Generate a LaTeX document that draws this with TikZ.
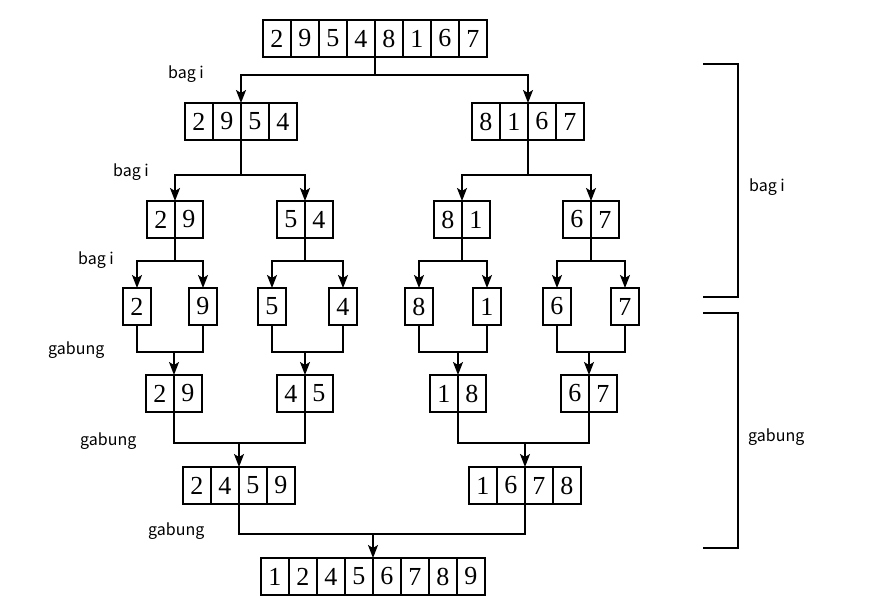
\documentclass[tikz,border=0pt]{standalone}
\usepackage{fontspec}
\usetikzlibrary{calc,arrows.meta}
\newfontfamily\digf{Liberation Serif}
\newfontfamily\labf{Noto Sans CJK SC}
\newcommand\cellrow[5]{% name, cx, ytop, n, digits
  \node[minimum width=#4*28, minimum height=37, inner sep=0, anchor=north] (#1) at (#2,#3) {};
  \foreach \d [count=\i] in {#5} {
    \draw[line width=1.6] ($(#1.north west)+(\i*28-28,0)$) rectangle ++(28,37);
    \node[font=\digf\fontsize{26}{26}\selectfont, inner sep=0] at ($(#1.north west)+(\i*28-14,18.5)$) {\d};
  }
}
\begin{document}
\begin{tikzpicture}[x=1pt,y=-1pt,
  arr/.style={line width=1.6,-{Stealth[length=13,width=10,inset=3]}},
  ln/.style={line width=1.6},
  lab/.style={font=\labf\fontsize{16}{16}\selectfont, inner sep=0, anchor=west}]
\useasboundingbox (0,0) rectangle (872,608);
\cellrow{r0}{375}{20}{8}{2,9,5,4,8,1,6,7}
\cellrow{a}{241}{103}{4}{2,9,5,4}
\cellrow{b}{528}{103}{4}{8,1,6,7}
\cellrow{aa}{175}{201}{2}{2,9}
\cellrow{ab}{305}{201}{2}{5,4}
\cellrow{ba}{462}{201}{2}{8,1}
\cellrow{bb}{591}{201}{2}{6,7}
\cellrow{s1}{137}{288}{1}{2}
\cellrow{s2}{203}{288}{1}{9}
\cellrow{s3}{272}{288}{1}{5}
\cellrow{s4}{343}{288}{1}{4}
\cellrow{s5}{419}{288}{1}{8}
\cellrow{s6}{487}{288}{1}{1}
\cellrow{s7}{557}{288}{1}{6}
\cellrow{s8}{625}{288}{1}{7}
\cellrow{m1}{174}{375}{2}{2,9}
\cellrow{m2}{305}{375}{2}{4,5}
\cellrow{m3}{458}{375}{2}{1,8}
\cellrow{m4}{589}{375}{2}{6,7}
\cellrow{n1}{239}{467}{4}{2,4,5,9}
\cellrow{n2}{525}{467}{4}{1,6,7,8}
\cellrow{f}{373}{558}{8}{1,2,4,5,6,7,8,9}
% splits
\foreach \p/\c/\d/\h in {r0/a/b/75, a/aa/ab/175, b/ba/bb/175, aa/s1/s2/261, ab/s3/s4/261, ba/s5/s6/261, bb/s7/s8/261}{
  \draw[ln] (\p.south) -- (\p.south |- 0,\h);
  \draw[arr] (\p.south |- 0,\h) -| (\c.north);
  \draw[arr] (\p.south |- 0,\h) -| (\d.north);
}
% merges
\foreach \a/\b/\c/\h in {s1/s2/m1/352, s3/s4/m2/352, s5/s6/m3/352, s7/s8/m4/352, m1/m2/n1/443, m3/m4/n2/443, n1/n2/f/534}{
  \draw[ln] (\a.south) |- (\b.south |- 0,\h) -- (\b.south);
  \draw[arr] (\c.north |- 0,\h) -- (\c.north);
}
% labels
\node[lab] (l1) at (168,74) {bag i};
\node[lab] (l2) at (113,172) {bag i};
\node[lab] (l3) at (78,260) {bag i};
\node[lab] (l4) at (48,350) {gabung};
\node[lab] (l5) at (80,441) {gabung};
\node[lab] (l6) at (148,531) {gabung};
% brackets
\draw[ln] (703,64) -- (738,64) -- (738,297) -- (703,297);
\draw[ln] (703,313) -- (738,313) -- (738,548) -- (703,548);
\node[lab] (bl) at (749,187) {bag i};
\node[lab] (gl) at (748,437) {gabung};
\end{tikzpicture}
\end{document}
